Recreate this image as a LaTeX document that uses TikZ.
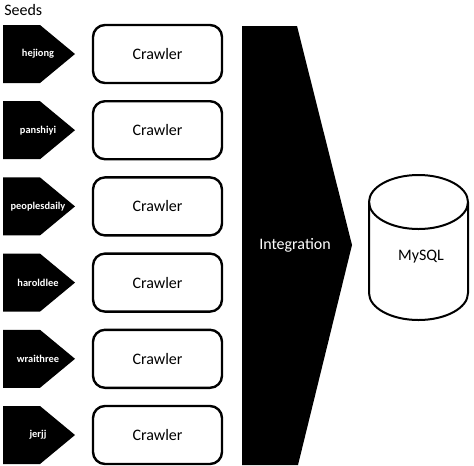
\documentclass[tikz,border=0pt]{standalone}
\usepackage{fontspec}
\setmainfont{Carlito}
\begin{document}
\begin{tikzpicture}[x=0.75pt, y=-0.75pt, line join=round,
    crawler/.style={draw, line width=1.8pt, rounded corners=9pt, minimum width=96.75pt, minimum height=43.5pt, font=\fontsize{12}{14}\selectfont},
    seedtext/.style={text=white, font=\fontsize{7.8}{9}\selectfont\bfseries},
    label/.style={font=\fontsize{12}{14}\selectfont}]

    \useasboundingbox (0,0) rectangle (474,465);

    \node[label, anchor=west, inner sep=0pt] (seeds) at (4,10) {Seeds};

    % seeds and their crawlers
    \foreach \seed [count=\i from 0] in {hejiong, panshiyi, peoplesdaily, haroldlee, wraithree, jerjj} {
        \fill (3,25+76.2*\i) -- (40,25+76.2*\i) -- (75,54+76.2*\i) -- (40,83+76.2*\i) -- (3,83+76.2*\i) -- cycle;
        \node[seedtext] (seed\i) at (38,54+76.2*\i) {\seed};
        \node[crawler] (crawler\i) at (157.5,54+76.2*\i) {Crawler};
    }

    % integration arrow
    \fill (242,26) -- (297,26) -- (352,245) -- (298,465) -- (242,465) -- cycle;
    \node[label, text=white] (integration) at (295,245) {Integration};

    % database
    \draw[line width=1.5pt] (418.5,202) ellipse [x radius=37.125pt, y radius=20.25pt];
    \draw[line width=1.5pt] (369,202) -- (369,293) arc[start angle=180, end angle=360, x radius=37.125pt, y radius=20.25pt] -- (468,202);
    \node[label] (mysql) at (421,257) {MySQL};

\end{tikzpicture}
\end{document}
